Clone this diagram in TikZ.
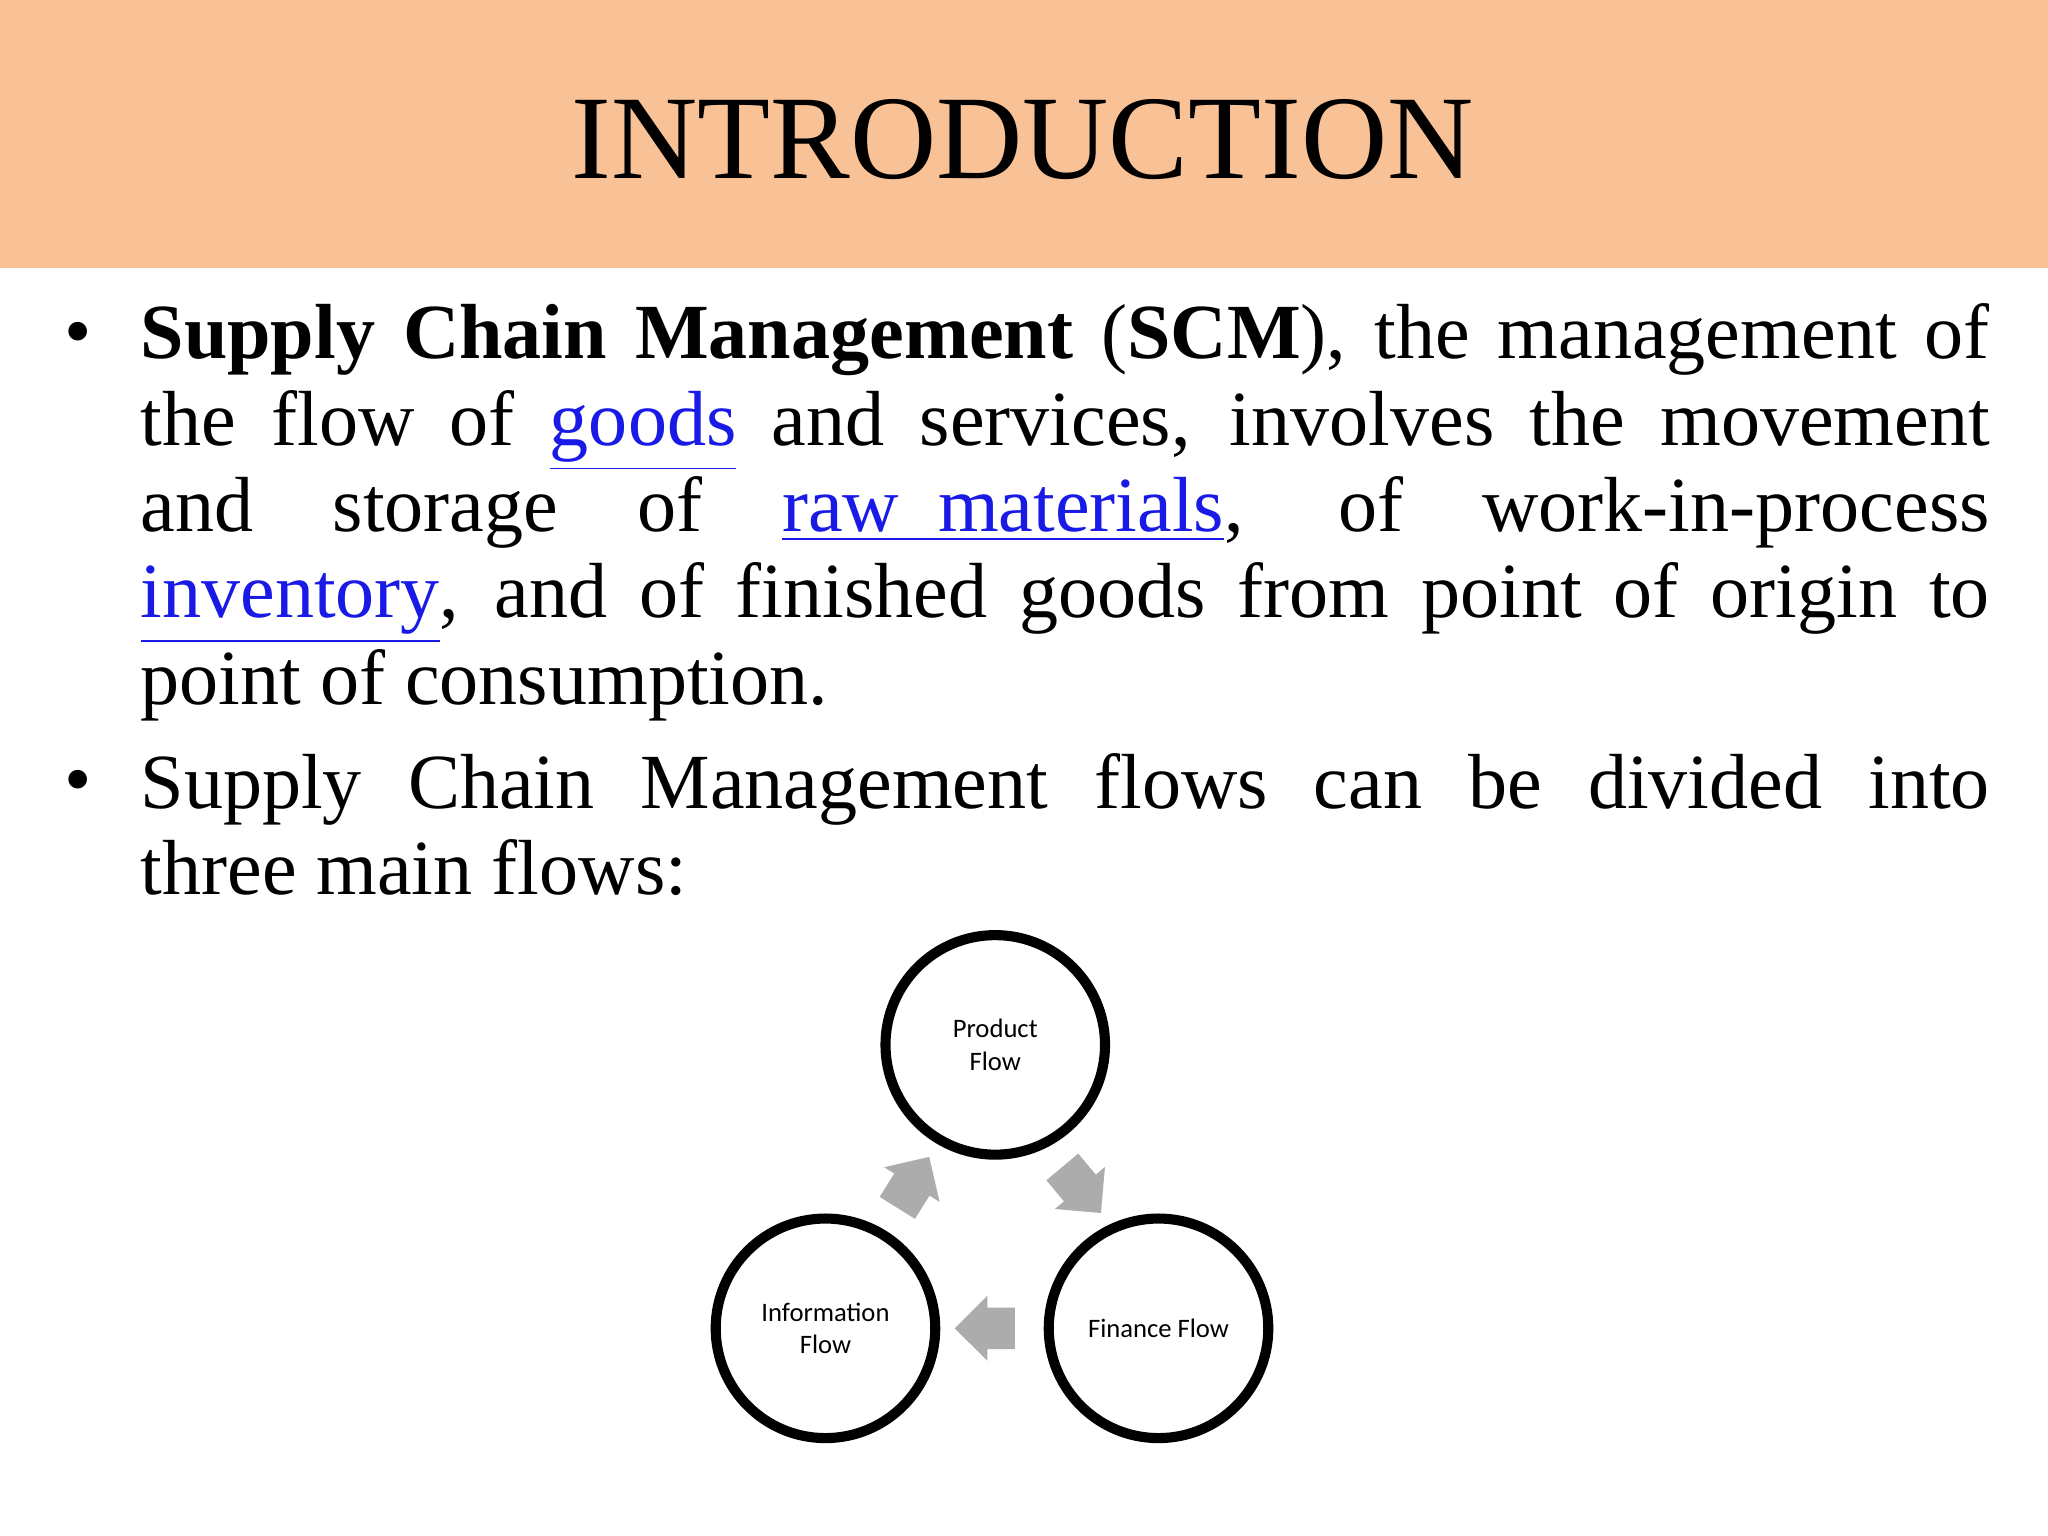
\documentclass[tikz,border=0pt]{standalone}
\usepackage{fontspec}
\setmainfont{Liberation Serif}
\newfontfamily\calib{Carlito}
\usetikzlibrary{shapes.arrows}
\definecolor{band}{HTML}{F9C196}
\definecolor{lnk}{HTML}{1A1AE6}
\newcommand{\lk}[1]{\smash{\textcolor{lnk}{\underline{#1}}}}
\tikzset{flow/.style={circle,draw=black,line width=2.2pt,minimum size=1.68cm,inner sep=0pt,align=center,font=\calib\fontsize{5.8}{7}\selectfont},
 garrow/.style={single arrow,fill=gray!65,draw=none,minimum height=0.46cm,minimum width=0.5cm,single arrow head extend=0.09cm,inner sep=0pt},
 para/.style={anchor=north west,text width=14.15cm,inner sep=0pt,align=justify,font=\fontsize{17}{18.8}\selectfont}}
\begin{document}
\begin{tikzpicture}[x=0.01cm,y=-0.01cm]
\useasboundingbox (0,0) rectangle (1568,1176);
\fill[white] (0,0) rectangle (1568,1176);
\fill[band] (0,0) rectangle (1568,205);
\node (title) at (783,107) {\fontsize{26}{28}\selectfont INTRODUCTION};
\node (b1) at (60,260) {\fontsize{17}{18}\selectfont\textbullet};
\node (b2) at (60,603) {\fontsize{17}{18}\selectfont\textbullet};
\node[para] (p1) at (107,232) {\hyphenpenalty=10000 \textbf{Supply Chain Management} (\textbf{SCM}), the management of\linebreak the flow of \lk{goods} and services, involves the movement\linebreak and storage of \lk{raw\ \ materials}, of work-in-process\linebreak \lk{inventory}, and of finished goods from point of origin to\linebreak point of consumption.\par};
\node[para] (p2) at (107,576) {\hyphenpenalty=10000 Supply Chain Management flows can be divided into\linebreak three main flows:\par};
\node[flow] (prod) at (762,800) {Product\\Flow};
\node[flow] (info) at (632,1017) {Information\\Flow};
\node[flow] (fin) at (887,1017) {Finance Flow};
\node[garrow,rotate=-50] (a1) at (823,905) {\rule{0pt}{0.3cm}};
\node[garrow,rotate=180] (a2) at (762,1017) {\rule{0pt}{0.3cm}};
\node[garrow,rotate=58] (a3) at (695,912) {\rule{0pt}{0.3cm}};
\end{tikzpicture}
\end{document}
